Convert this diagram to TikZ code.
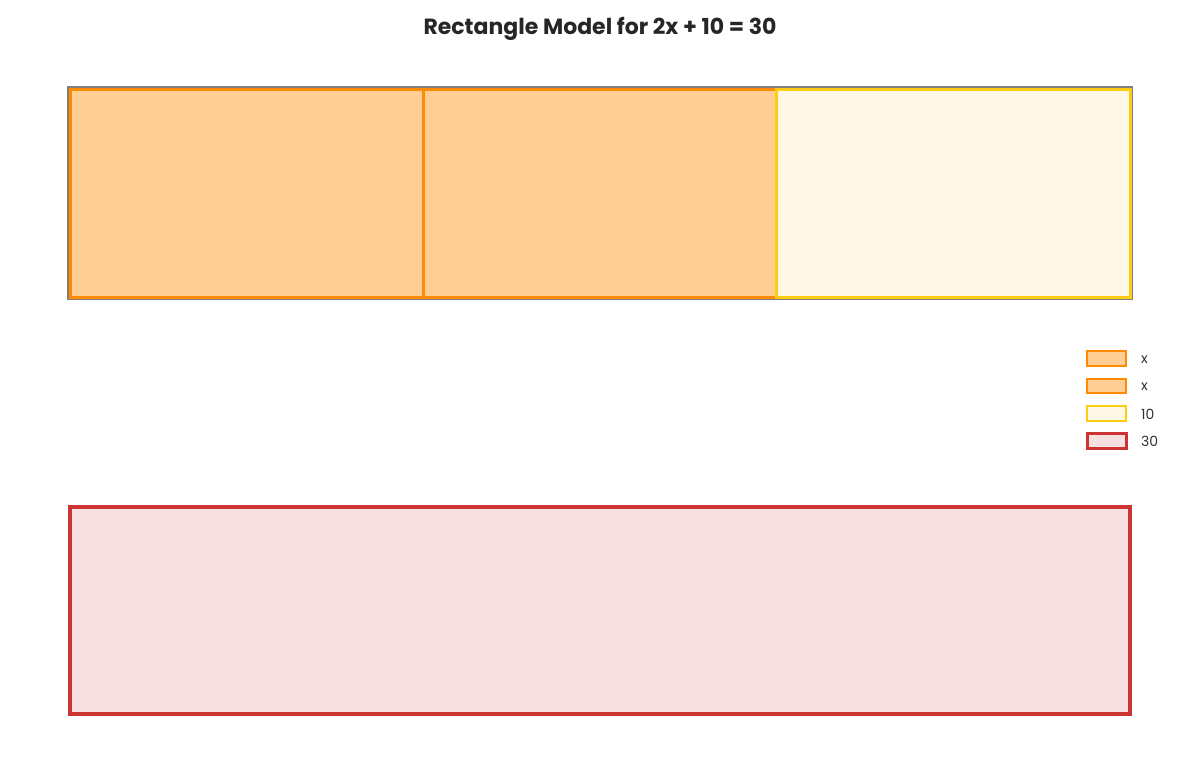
\documentclass[tikz,border=0pt]{standalone}
\usepackage{fontspec}
\setmainfont{Poppins}
\definecolor{org}{HTML}{FF8C00}
\definecolor{orgf}{HTML}{FFCE94}
\definecolor{yel}{HTML}{FFCC11}
\definecolor{yelf}{HTML}{FFF8E6}
\definecolor{rd}{HTML}{CC3333}
\definecolor{rdf}{HTML}{F7E0E0}
\tikzset{xbox/.style={draw=org,fill=orgf,line width=3pt},
tbox/.style={draw=yel,fill=yelf,line width=3pt},
rbox/.style={draw=rd,fill=rdf,line width=4pt},
leg/.style={font=\fontsize{14}{16}\selectfont,text=black!80,anchor=west,inner sep=0}}
\begin{document}
\begin{tikzpicture}[x=1pt,y=-1pt]
\useasboundingbox (0,0) rectangle (1200,763);
\node[font=\bfseries\fontsize{22}{26}\selectfont,text=black!85] (title) at (600,29) {Rectangle Model for 2x + 10 = 30};
\draw[gray,line width=1.5pt] (68,87) rectangle (1132,299);
\draw[xbox] (70,89) rectangle (423,297);
\draw[xbox] (423,89) rectangle (776,297);
\draw[tbox] (776,89) rectangle (1130,297);
\draw[rbox] (70,507) rectangle (1130,714);
\draw[xbox,line width=2.5pt] (1087,351) rectangle (1126,366);
\node[leg] (l1) at (1141,360) {x};
\draw[xbox,line width=2.5pt] (1087,379) rectangle (1126,393);
\node[leg] (l2) at (1141,387) {x};
\draw[tbox,line width=2.5pt] (1087,406) rectangle (1126,421);
\node[leg] (l3) at (1141,414) {10};
\draw[rbox,line width=3pt] (1087,433) rectangle (1126,448);
\node[leg] (l4) at (1141,441) {30};
\end{tikzpicture}
\end{document}
